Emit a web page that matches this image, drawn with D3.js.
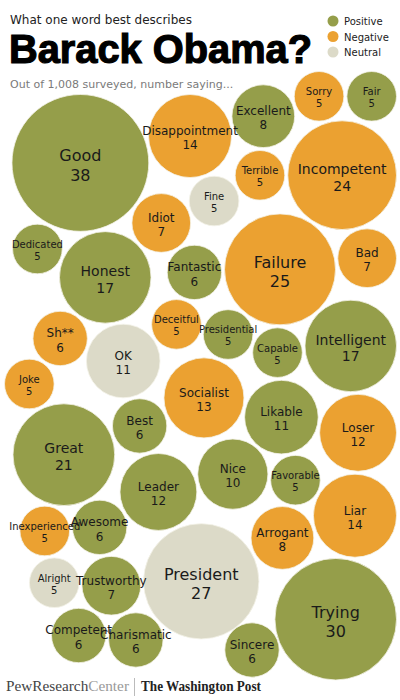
<!DOCTYPE html>
<html>
<head>
<meta charset="utf-8">
<script src="https://cdn.jsdelivr.net/npm/d3@7"></script>
<style>
body { margin: 0; background: #fff; }
svg { display: block; font-family: "DejaVu Sans", Verdana, sans-serif; }
</style>
</head>
<body>
<svg id="chart" width="400" height="700"></svg>
<script>
// answers, listed the way the packer lays them down: right to left, row after row
var words = ["Fair", "Sorry", "Excellent", "Disappointment", "Good",
             "Incompetent", "Terrible", "Fine", "Idiot", "Honest", "Dedicated",
             "Bad", "Failure", "Fantastic",
             "Intelligent", "Capable", "Presidential", "Deceitful", "OK", "Sh**", "Joke",
             "Loser", "Likable", "Socialist", "Best", "Great",
             "Liar", "Favorable", "Nice", "Leader", "Awesome", "Inexperienced",
             "Arrogant", "President", "Trustworthy", "Alright",
             "Trying", "Charismatic", "Competent", "Sincere"];
var counts = [5, 5, 8, 14, 38,
              24, 5, 5, 7, 17, 5,
              7, 25, 6,
              17, 5, 5, 5, 11, 6, 5,
              12, 11, 13, 6, 21,
              14, 5, 10, 12, 6, 5,
              8, 27, 7, 5,
              30, 6, 6, 6];
var tones = ["Positive", "Negative", "Positive", "Negative", "Positive",
             "Negative", "Negative", "Neutral", "Negative", "Positive", "Positive",
             "Negative", "Negative", "Positive",
             "Positive", "Positive", "Positive", "Negative", "Neutral", "Negative", "Negative",
             "Negative", "Positive", "Negative", "Positive", "Positive",
             "Negative", "Positive", "Positive", "Positive", "Positive", "Negative",
             "Negative", "Neutral", "Positive", "Neutral",
             "Positive", "Positive", "Positive", "Positive"];
var toneNames = ["Positive", "Negative", "Neutral"];

var svg = d3.select("#chart");

var color = d3.scaleOrdinal().domain(toneNames).range(["#959e4a", "#eba131", "#dcdac8"]);
var radius = d3.scaleSqrt().domain([0, 38]).range([0, 68.4]);
var fontSize = d3.scaleThreshold().domain([6, 17, 25]).range([10, 12, 14, 16]);

var data = words.map(function(w, i) {
    return {word: w, count: counts[i], tone: tones[i], r: radius(counts[i])};
});

// free area for the bubbles: page minus the boxes kept for subtitle, title + legend, footer
var gap = 3;
var box = {left: 3, right: 398, bottom: 692};
var blocks = [[0, 0, 240, 93], [0, 0, 400, 70], [0, 679, 266, 700]];

function rectDist(x, y, b) {
    var dx = Math.max(b[0] - x, 0, x - b[2]),
        dy = Math.max(b[1] - y, 0, y - b[3]);
    return Math.sqrt(dx * dx + dy * dy);
}

// where two offset shapes meet (circle / vertical line / horizontal line)
function meet(a, b) {
    if (a.t != "c" && b.t == "c") { var s = a; a = b; b = s; }
    if (a.t == "c" && b.t == "c") {
        var dx = b.x - a.x, dy = b.y - a.y, d = Math.sqrt(dx * dx + dy * dy);
        if (d == 0 || d > a.r + b.r || d < Math.abs(a.r - b.r)) return [];
        var k = (a.r * a.r - b.r * b.r + d * d) / (2 * d),
            h = Math.sqrt(Math.max(0, a.r * a.r - k * k)),
            mx = a.x + k * dx / d, my = a.y + k * dy / d;
        return [[mx - h * dy / d, my + h * dx / d], [mx + h * dy / d, my - h * dx / d]];
    }
    if (a.t == "c") {
        var off = b.t == "v" ? b.v - a.x : b.v - a.y;
        if (Math.abs(off) > a.r) return [];
        var q = Math.sqrt(a.r * a.r - off * off);
        return b.t == "v" ? [[b.v, a.y - q], [b.v, a.y + q]] : [[a.x - q, b.v], [a.x + q, b.v]];
    }
    if (a.t == b.t) return [];
    return a.t == "v" ? [[a.v, b.v]] : [[b.v, a.v]];
}

// how much room a circle of radius r has at (x, y); >= 0 means it fits
function room(x, y, r, placed) {
    var m = Math.min(x - box.left, box.right - x, box.bottom - y, y) - r;
    blocks.forEach(function(b) { m = Math.min(m, rectDist(x, y, b) - r); });
    placed.forEach(function(p) { m = Math.min(m, Math.hypot(p.x - x, p.y - y) - p.r - gap / 2 - r); });
    return m;
}

// greedy rows: a bubble touches the one before, sits left of it at the highest free spot;
// when the row can go no further a new one starts at the upper right
function packBubbles(nodes) {
    var placed = [];
    nodes.forEach(function(n) {
        var r = n.r + gap / 2, shapes = [], cands = [];
        placed.forEach(function(p, i) { shapes.push({t: "c", x: p.x, y: p.y, r: p.r + gap / 2 + r, k: i}); });
        blocks.forEach(function(b) {
            [[b[0], b[1]], [b[2], b[1]], [b[0], b[3]], [b[2], b[3]]].forEach(function(p) {
                shapes.push({t: "c", x: p[0], y: p[1], r: r, k: -1});
            });
            shapes.push({t: "h", v: b[3] + r, k: -1}, {t: "h", v: b[1] - r, k: -1},
                        {t: "v", v: b[2] + r, k: -1}, {t: "v", v: b[0] - r, k: -1});
        });
        shapes.push({t: "v", v: box.left + r, k: -1}, {t: "v", v: box.right - r, k: -1},
                    {t: "h", v: box.bottom - r, k: -1});
        var last = placed.length - 1;
        for (var i = 0; i < shapes.length; i++) {
            for (var j = i + 1; j < shapes.length; j++) {
                var near = shapes[i].k == last || shapes[j].k == last;
                meet(shapes[i], shapes[j]).forEach(function(c) {
                    if (room(c[0], c[1], r, placed) > -1e-6) cands.push([c[0], c[1], near]);
                });
            }
        }
        var prev = placed[last], best;
        if (prev) {
            var band = Math.max(prev.r, n.r) + 20.5;
            best = d3.least(cands.filter(function(c) {
                return c[2] && c[0] < prev.x - 1 && Math.abs(c[1] - prev.y) <= band;
            }), function(c) { return c[1] - 0.05 * c[0]; });
        }
        if (!best) best = d3.least(cands, function(c) { return c[1] - 0.5 * c[0]; });
        if (!best) {
            // nothing fits cleanly: take the roomiest spot on a coarse grid
            var grid = [];
            for (var gx = 0; gx <= 400; gx += 4) for (var gy = 70; gy <= 692; gy += 4) grid.push([gx, gy]);
            best = d3.greatest(grid, function(c) { return room(c[0], c[1], r, placed); });
        }
        n.x = best[0];
        n.y = best[1];
        placed.push(n);
    });
}
packBubbles(data);

// header
svg.append("text").attr("x", 10).attr("y", 24).attr("font-size", 12).attr("fill", "#222")
    .text("What one word best describes");
svg.append("text").attr("x", 9).attr("y", 63).attr("font-family", "'Liberation Sans', Arial, sans-serif")
    .attr("font-weight", "bold").attr("font-size", 41).attr("textLength", 303).attr("lengthAdjust", "spacingAndGlyphs")
    .attr("fill", "#000").attr("stroke", "#000").attr("stroke-width", 1.2)
    .text("Barack Obama?");
svg.append("text").attr("x", 10).attr("y", 88).attr("font-size", 11).attr("fill", "#7a7a7a")
    .text("Out of 1,008 surveyed, number saying...");

// legend
var legend = svg.append("g").selectAll("g").data(toneNames).enter().append("g")
    .attr("transform", function(d, i) { return "translate(333," + (21 + i * 15.5) + ")"; });
legend.append("circle").attr("r", 5.5).attr("fill", function(d) { return color(d); });
legend.append("text").attr("x", 11).attr("y", 4).attr("font-size", 10).attr("fill", "#222").text(function(d) { return d; });

// bubbles
var g = svg.append("g");
g.selectAll("circle").data(data).enter().append("circle")
    .attr("cx", function(d) { return d.x; })
    .attr("cy", function(d) { return d.y; })
    .attr("r", function(d) { return d.r; })
    .attr("fill", function(d) { return color(d.tone); })
    .attr("stroke", "#f4f2e8").attr("stroke-width", 0.8);

var labels = g.selectAll("g.lab").data(data).enter().append("g").attr("class", "lab");
labels.append("text")
    .attr("x", function(d) { return d.x; })
    .attr("y", function(d) { return d.y - 0.1 * fontSize(d.count); })
    .attr("text-anchor", "middle")
    .attr("font-size", function(d) { return fontSize(d.count); })
    .attr("fill", "#1a1a1a")
    .text(function(d) { return d.word; })
    .attr("x", function(d) {
        // keep wide words inside the page
        var half = this.getComputedTextLength() / 2 + 1;
        return Math.max(half, Math.min(400 - half, d.x));
    });
labels.append("text")
    .attr("x", function(d) { return d.x; })
    .attr("y", function(d) { return d.y + 1.1 * fontSize(d.count); })
    .attr("text-anchor", "middle")
    .attr("font-size", function(d) { return fontSize(d.count); })
    .attr("fill", "#1a1a1a")
    .text(function(d) { return d.count; });

// footer
var foot = svg.append("text").attr("x", 6).attr("y", 691).attr("font-family", "'Liberation Serif', 'DejaVu Serif', serif")
    .attr("font-size", 14).attr("textLength", 123).attr("lengthAdjust", "spacingAndGlyphs");
foot.append("tspan").attr("fill", "#444").text("PewResearch");
foot.append("tspan").attr("fill", "#999").text("Center");
svg.append("line").attr("x1", 134.5).attr("x2", 134.5).attr("y1", 678).attr("y2", 696).attr("stroke", "#bbb");
svg.append("text").attr("x", 141).attr("y", 691).attr("font-family", "'Liberation Serif', 'DejaVu Serif', serif")
    .attr("font-weight", "bold").attr("font-size", 14).attr("textLength", 120).attr("lengthAdjust", "spacingAndGlyphs")
    .attr("fill", "#222").text("The Washington Post");
</script>
</body>
</html>
